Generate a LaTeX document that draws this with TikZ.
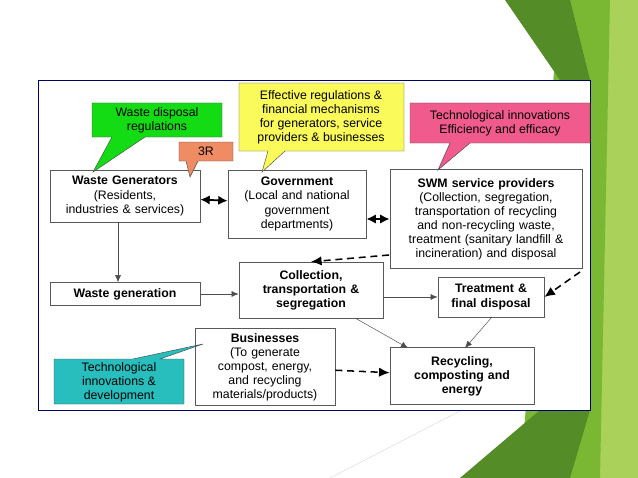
\documentclass[tikz,border=0pt]{standalone}
\usepackage{fontspec}
\setmainfont{Liberation Sans}
\usetikzlibrary{positioning,arrows.meta}
\definecolor{slidegreen}{RGB}{122,184,52}
\definecolor{darkgreen}{RGB}{84,140,40}
\definecolor{lightgreen}{RGB}{170,210,90}
\definecolor{callgreen}{RGB}{20,220,20}
\definecolor{callorange}{RGB}{240,140,100}
\definecolor{callyellow}{RGB}{250,250,90}
\definecolor{callpink}{RGB}{240,90,140}
\definecolor{callteal}{RGB}{40,190,190}
\tikzset{
  box/.style={draw=gray!70!black,fill=white,align=center,inner sep=1pt,font=\fontsize{10.5}{12}\selectfont},
  call/.style={draw=gray!60!black,align=center,font=\fontsize{10.5}{12}\selectfont},
  ctext/.style={align=center,font=\fontsize{10.5}{12}\selectfont},
  flow/.style={-{Latex[length=6pt,width=5pt]},gray!60!black,thin},
  dflow/.style={-{Latex[length=9pt,width=8pt]},black,line width=1.3pt,dash pattern=on 6pt off 4pt},
  both/.style={{Latex[length=8pt,width=8pt]}-{Latex[length=8pt,width=8pt]},black,line width=1.5pt}
}
\begin{document}
\begin{tikzpicture}[x=0.03cm,y=-0.03cm]
  \useasboundingbox (0,0) rectangle (638,478);
  % slide background
  \fill[lightgreen] (600,0) -- (638,0) -- (638,478) -- (560,478) -- cycle;
  \fill[slidegreen] (560,0) -- (610,0) -- (600,478) -- (520,478) -- cycle;
  \fill[darkgreen] (505,0) -- (570,0) -- (590,80) -- (560,80) -- cycle;
  \fill[darkgreen] (540,410) -- (590,410) -- (570,478) -- (460,478) -- cycle;
  \draw[gray!30] (330,478) -- (520,380);
  % frame
  \draw[fill=white,draw=blue!40!black] (38,80) rectangle (590,410);

  % main boxes
  \node[box,text width=148*0.03cm,minimum height=52*0.03cm] (gen) at (125,196) {\textbf{Waste Generators}\\(Residents,\\industries \& services)};
  \node[box,text width=136*0.03cm,minimum height=68*0.03cm] (gov) at (297,204) {\textbf{Government}\\(Local and national\\government\\departments)};
  \node[box,text width=190*0.03cm,minimum height=99*0.03cm] (swm) at (486,219) {\textbf{SWM service providers}\\(Collection, segregation,\\transportation of recycling\\and non-recycling waste,\\treatment (sanitary landfill \&\\incineration) and disposal};
  \node[box,text width=148*0.03cm,minimum height=23*0.03cm] (wgen) at (125,294) {\textbf{Waste generation}};
  \node[box,text width=142*0.03cm,minimum height=56*0.03cm] (coll) at (311,290) {\textbf{Collection,}\\\textbf{transportation \&}\\\textbf{segregation}};
  \node[box,text width=104*0.03cm,minimum height=40*0.03cm] (treat) at (491,297) {\textbf{Treatment \&}\\\textbf{final disposal}};
  \node[box,text width=138*0.03cm,minimum height=77*0.03cm] (bus) at (265,367) {\textbf{Businesses}\\(To generate\\compost, energy,\\and recycling\\materials/products)};
  \node[box,text width=142*0.03cm,minimum height=57*0.03cm] (recy) at (462,376) {\textbf{Recycling,}\\\textbf{composting and}\\\textbf{energy}};

  % callouts
  \draw[call,fill=callgreen] (92,103) -- (222,103) -- (222,137) -- (145,137) -- (93,172) -- (112,137) -- (92,137) -- cycle;
  \node[ctext] (cgreen) at (157,120) {Waste disposal\\regulations};
  \draw[call,fill=callorange] (179,142) -- (233,142) -- (233,161) -- (198,161) -- (190,177) -- (186,161) -- (179,161) -- cycle;
  \node[ctext] (c3r) at (206,151.5) {3R};
  \draw[call,fill=callyellow] (239,83) -- (404,83) -- (404,151) -- (285,151) -- (262,172) -- (268,151) -- (239,151) -- cycle;
  \node[ctext] (cyellow) at (321,117) {Effective regulations \&\\financial mechanisms\\for generators, service\\providers \& businesses};
  \draw[call,fill=callpink] (410,103) -- (590,103) -- (590,143) -- (470,143) -- (438,170) -- (450,143) -- (410,143) -- cycle;
  \node[ctext] (cpink) at (500,123) {Technological innovations\\Efficiency and efficacy};
  \draw[call,fill=callteal] (54,359) -- (133,359) -- (203,344) -- (160,359) -- (184,359) -- (184,404) -- (54,404) -- cycle;
  \node[ctext] (cteal) at (119,382) {Technological\\innovations \&\\development};

  % connectors
  \coordinate (gs) at (118,222);
  \coordinate (sd) at (389,255);
  \coordinate (se) at (580,272);
  \coordinate (cs) at (355,318);
  \coordinate (rn) at (408,348);
  \coordinate (ts) at (492,317);
  \coordinate (rt) at (465,348);
  \draw[both] (gen) -- (gov);
  \draw[both] (gov.east|-swm.west) -- (swm.west);
  \draw[flow] (gs) -- (gs|-wgen.north);
  \draw[flow] (wgen.east) -- (wgen.east-|coll.west);
  \draw[flow] (coll.east|-treat.west) -- (treat.west);
  \draw[dflow] (sd) -- (coll.north);
  \draw[dflow] (se) -- (treat.east);
  \draw[flow] (cs) -- (rn);
  \draw[flow] (ts) -- (rt);
  \draw[dflow] (bus) -- (recy);
\end{tikzpicture}
\end{document}
